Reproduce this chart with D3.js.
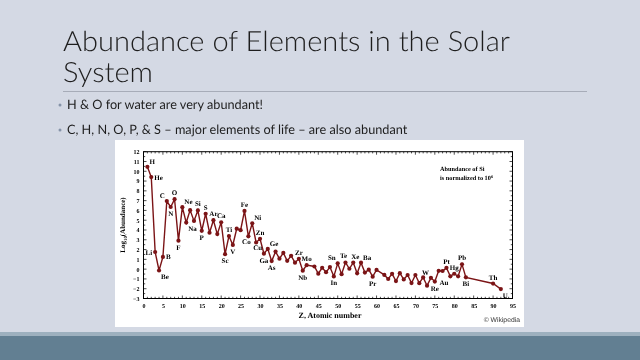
<!DOCTYPE html>
<html><head><meta charset="utf-8">
<script src="https://cdn.jsdelivr.net/npm/d3@7"></script>
<style>body{margin:0;background:#d4d9e4}svg{display:block;will-change:transform}text{text-rendering:geometricPrecision}</style>
</head><body><svg id="c" width="640" height="360"></svg>
<script>
const titleLines = ["Abundance of Elements in the Solar", "System"];
const bullets = ["H & O for water are very abundant!", "C, H, N, O, P, & S \u2013 major elements of life \u2013 are also abundant"];
const symbols = ["H","He","Li","Be","B","C","N","O","F","Ne","Na","Mg","Al","Si","P","S","Cl","Ar","K","Ca","Sc","Ti","V","Cr","Mn","Fe","Co","Ni","Cu","Zn","Ga","Ge","As","Se","Br","Kr","Rb","Sr","Y","Zr","Nb","Mo","Ru","Rh","Pd","Ag","Cd","In","Sn","Sb","Te","I","Xe","Cs","Ba","La","Ce","Pr","Nd","Sm","Eu","Gd","Tb","Dy","Ho","Er","Tm","Yb","Lu","Hf","Ta","W","Re","Os","Ir","Pt","Au","Hg","Tl","Pb","Bi","Th","U"];
const atomicNumber = [1,2,3,4,5,6,7,8,9,10,11,12,13,14,15,16,17,18,19,20,21,22,23,24,25,26,27,28,29,30,31,32,33,34,35,36,37,38,39,40,41,42,44,45,46,47,48,49,50,51,52,53,54,55,56,57,58,59,60,62,63,64,65,66,67,68,69,70,71,72,73,74,75,76,77,78,79,80,81,82,83,90,92];
const logAbundance = [10.45,9.41,1.75,-0.14,1.25,6.95,6.35,7.15,2.91,6.33,4.76,6.03,4.93,6.00,3.92,5.66,3.72,5.00,3.58,4.79,1.53,3.38,2.47,4.13,3.98,5.95,3.35,4.69,2.72,3.10,1.58,2.07,0.82,1.79,1.07,1.66,0.85,1.37,0.66,1.06,-0.16,0.41,0.27,-0.46,0.14,-0.31,0.21,-0.74,0.59,-0.51,0.68,0.04,0.67,-0.43,0.66,-0.35,-0.05,-0.77,-0.08,-0.59,-1.01,-0.48,-1.22,-0.41,-1.05,-0.60,-1.42,-0.60,-1.43,-0.85,-1.69,-0.89,-1.27,-0.17,-0.19,0.13,-0.73,-0.47,-0.73,0.50,-0.84,-1.47,-2.04];
const labelSide = {H:"ne",He:"e",Li:"w",Be:"se",B:"e",C:"nw",N:"s",O:"n",F:"s",Ne:"ne",Na:"se",Si:"n",P:"s",S:"n",Ar:"n",Ca:"n",Sc:"s",Ti:"n",V:"s",Fe:"n",Co:"ssw",Ni:"ne",Cu:"sse",Zn:"n",Ga:"s",Ge:"ne",As:"s",Zr:"n",Nb:"s",Mo:"n",Sn:"nw",In:"s",Te:"nnw",Xe:"nne",Ba:"ne",Pr:"s",W:"nw",Re:"s",Pt:"n",Au:"sw",Hg:"n",Pb:"n",Bi:"s",Th:"n",U:"se"};
const yTickValues = d3.range(-3, 13, 1);
const xTickValues = d3.range(0, 96, 5);
const xMinor = d3.range(0, 96, 1);

const svg = d3.select("#c");
svg.append("rect").attr("width",640).attr("height",360).attr("fill","#d4d9e4");

// title
const tt = svg.append("g").attr("fill","#1e1e1e").style("font-family","Lato, 'Open Sans', sans-serif").style("font-weight",300);
tt.append("text").attr("x",63).attr("y",51).attr("font-size",28).attr("textLength",447).attr("lengthAdjust","spacingAndGlyphs").text(titleLines[0]);
tt.append("text").attr("x",63).attr("y",82).attr("font-size",28).attr("textLength",90).attr("lengthAdjust","spacingAndGlyphs").text(titleLines[1]);
svg.append("line").attr("x1",63).attr("x2",587).attr("y1",91.5).attr("y2",91.5).attr("stroke","#a7acb8").attr("stroke-width",1);

// bullets
const bg = svg.append("g").style("font-family","Lato, 'Open Sans', sans-serif").attr("font-size",13).attr("fill","#1e1e1e");
const bulletY = [109, 134];
let scaleF = 1;
bullets.forEach((b,i)=>{
  bg.append("circle").attr("cx",60).attr("cy",bulletY[i]-4).attr("r",1.5).attr("fill","#8593a8");
  const t = bg.append("text").attr("x",67).attr("y",bulletY[i]).text(b);
  const w = t.node().getComputedTextLength();
  if(i===0){ scaleF = 196 / w; }
  t.attr("textLength", w*scaleF).attr("lengthAdjust","spacingAndGlyphs");
});

// chart box
svg.append("rect").attr("x",115).attr("y",140).attr("width",409).attr("height",187).attr("fill","#ffffff");

const x = d3.scaleLinear().domain([0,95]).range([143.5,512.5]);
const y = d3.scaleLinear().domain([-3,12]).range([298.5,151.7]);
const serif = "'Liberation Serif','DejaVu Serif',serif";

const ch = svg.append("g").style("font-family",serif).style("font-weight","bold");

// minor ticks
const minorY = d3.range(-3, 12.01, 0.5);
ch.append("g").selectAll("line").data(xMinor).join("line")
  .attr("x1",d=>x(d)).attr("x2",d=>x(d)).attr("y1",y(-3)).attr("y2",d=>y(-3)-(d%5===0?3:1.7)).attr("stroke","#000").attr("stroke-width",0.7);
ch.append("g").selectAll("line").data(xMinor).join("line")
  .attr("x1",d=>x(d)).attr("x2",d=>x(d)).attr("y1",y(12)).attr("y2",d=>y(12)+(d%5===0?3:1.7)).attr("stroke","#000").attr("stroke-width",0.7);
ch.append("g").selectAll("line").data(minorY).join("line")
  .attr("y1",d=>y(d)).attr("y2",d=>y(d)).attr("x1",x(0)).attr("x2",d=>x(0)+(Number.isInteger(d)?3:1.7)).attr("stroke","#000").attr("stroke-width",0.7);
ch.append("g").selectAll("line").data(minorY).join("line")
  .attr("y1",d=>y(d)).attr("y2",d=>y(d)).attr("x1",x(95)).attr("x2",d=>x(95)-(Number.isInteger(d)?3:1.7)).attr("stroke","#000").attr("stroke-width",0.7);

// axes labels via d3 axes
const ax = ch.append("g").attr("transform",`translate(0,${y(-3)})`)
  .call(d3.axisBottom(x).tickValues(xTickValues).tickSize(0).tickPadding(5).tickFormat(d3.format("d")));
ax.select(".domain").remove();
ax.selectAll("text").attr("font-size",6).style("font-family",serif).style("font-weight","bold").attr("fill","#000");
const ay = ch.append("g").attr("transform",`translate(${x(0)},0)`)
  .call(d3.axisLeft(y).tickValues(yTickValues).tickSize(0).tickPadding(4).tickFormat(d3.format("d")));
ay.select(".domain").remove();
ay.selectAll("text").attr("font-size",6).style("font-family",serif).style("font-weight","bold").attr("fill","#000");

ch.append("rect").attr("x",x(0)).attr("y",y(12)).attr("width",x(95)-x(0)).attr("height",y(-3)-y(12)).attr("fill","none").attr("stroke","#000").attr("stroke-width",1);

// axis titles
ch.append("text").attr("x",330).attr("y",318).attr("text-anchor","middle").attr("font-size",8).text("Z, Atomic number");
const yt = ch.append("text").attr("transform",`translate(125,225) rotate(-90)`).attr("text-anchor","middle").attr("font-size",7);
yt.append("tspan").text("Log");
yt.append("tspan").attr("font-size",4.8).attr("dy",1.5).text("10");
yt.append("tspan").attr("dy",-1.5).text("(Abundance)");

// annotation
ch.append("text").attr("x",440).attr("y",171).attr("font-size",6.3).text("Abundance of Si");
const an = ch.append("text").attr("x",440).attr("y",180).attr("font-size",6.3);
an.append("tspan").text("is normalized to 10");
an.append("tspan").attr("font-size",4.2).attr("dy",-2.5).text("6");

svg.append("text").attr("x",520).attr("y",322).attr("text-anchor","end").attr("font-size",6.8).attr("fill","#333")
  .style("font-family","'Liberation Sans',Arial,sans-serif").text("\u00a9 Wikipedia");

// data
const data = atomicNumber.map((z,i)=>({z, v:logAbundance[i], s:symbols[i]}));
const color = "#7b1416";
ch.append("path").datum(data).attr("fill","none").attr("stroke",color).attr("stroke-width",1.4)
  .attr("d", d3.line().x(d=>x(d.z)).y(d=>y(d.v)));
ch.append("g").selectAll("circle").data(data).join("circle")
  .attr("cx",d=>x(d.z)).attr("cy",d=>y(d.v)).attr("r",2.1).attr("fill",color);

const off = {n:[0,-4,"middle"], s:[0,9,"middle"], e:[3,2.5,"start"], w:[-3,2.5,"end"],
  ne:[2,-3,"start"], se:[2,8.5,"start"], nw:[-2,-3,"end"], sw:[-2,8.5,"end"],
  ssw:[-2,8,"middle"], sse:[1.5,7.5,"middle"], nnw:[-2,-4,"middle"], nne:[2,-4,"middle"]};
ch.append("g").selectAll("text").data(data.filter(d=>labelSide[d.s])).join("text")
  .attr("x",d=>x(d.z)+off[labelSide[d.s]][0]).attr("y",d=>y(d.v)+off[labelSide[d.s]][1])
  .attr("text-anchor",d=>off[labelSide[d.s]][2]).attr("font-size",7).attr("fill","#000").text(d=>d.s);

// bottom bar
svg.append("rect").attr("x",0).attr("y",332).attr("width",640).attr("height",4).attr("fill","#9db0be");
svg.append("rect").attr("x",0).attr("y",336).attr("width",640).attr("height",24).attr("fill","#627f92");
</script></body></html>
